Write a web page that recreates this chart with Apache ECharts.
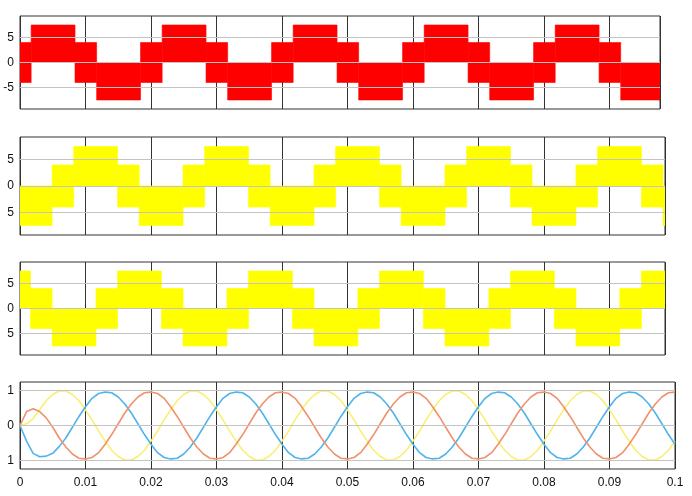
<!DOCTYPE html>
<html>
<head>
<meta charset="utf-8">
<script src="https://cdn.jsdelivr.net/npm/echarts@6/dist/echarts.min.js"></script>
<style>html,body{margin:0;background:#fff}#c{width:692px;height:496px}</style>
</head>
<body>
<div id="c"></div>
<script>
// stepped bands: breakpoint times, band low / high (last time = end of data)
var t1 = [0,.0017,.0084,.0117,.0184,.0217,.0284,.0317,.0384,.0417,.0484,.0517,.0584,.0617,.0684,.0717,.0784,.0817,.0884,.0917,.0984,.1];
var lo1 = [-4,0,-4,-7.5,-4,0,-4,-7.5,-4,0,-4,-7.5,-4,0,-4,-7.5,-4,0,-4,-7.5,-4];
var hi1 = [4,7.5,4,0,4,7.5,4,0,4,7.5,4,0,4,7.5,4,0,4,7.5,4,0,4];

var t2 = [0,.0049,.0082,.0149,.0182,.0249,.0282,.0349,.0382,.0449,.0482,.0549,.0582,.0649,.0682,.0749,.0782,.0849,.0882,.0949,.0982,.1];
var lo2 = [-7.5,-4,0,-4,-7.5,-4,0,-4,-7.5,-4,0,-4,-7.5,-4,0,-4,-7.5,-4,0,-4,-7.5];
var hi2 = [0,4,7.5,4,0,4,7.5,4,0,4,7.5,4,0,4,7.5,4,0,4,7.5,4,0];

var t3 = [0,.0016,.0049,.0116,.0149,.0216,.0249,.0316,.0349,.0416,.0449,.0516,.0549,.0616,.0649,.0716,.0749,.0816,.0849,.0916,.0949,.1];
var lo3 = [0,-4,-7.5,-4,0,-4,-7.5,-4,0,-4,-7.5,-4,0,-4,-7.5,-4,0,-4,-7.5,-4,0];
var hi3 = [7.5,4,0,4,7.5,4,0,4,7.5,4,0,4,7.5,4,0,4,7.5,4,0,4,7.5];

// sine signals sampled every 1 ms, 0..0.1 s
var sineYellow = [0,0.05,0.2,0.45,0.71,0.89,0.99,0.99,0.89,0.71,0.45,0.16,-0.16,-0.45,-0.71,-0.89,-0.99,-0.99,-0.89,-0.71,
-0.45,-0.16,0.16,0.45,0.71,0.89,0.99,0.99,0.89,0.71,0.45,0.16,-0.16,-0.45,-0.71,-0.89,-0.99,-0.99,-0.89,-0.71,
-0.45,-0.16,0.16,0.45,0.71,0.89,0.99,0.99,0.89,0.71,0.45,0.16,-0.16,-0.45,-0.71,-0.89,-0.99,-0.99,-0.89,-0.71,
-0.45,-0.16,0.16,0.45,0.71,0.89,0.99,0.99,0.89,0.71,0.45,0.16,-0.16,-0.45,-0.71,-0.89,-0.99,-0.99,-0.89,-0.71,
-0.45,-0.16,0.16,0.45,0.71,0.89,0.99,0.99,0.89,0.71,0.45,0.16,-0.16,-0.45,-0.71,-0.89,-0.99,-0.99,-0.89,-0.71,-0.45];
var sineBlue = [0,-0.45,-0.8,-0.9,-0.88,-0.8,-0.6,-0.36,-0.05,0.26,0.54,0.78,0.92,0.96,0.94,0.82,0.62,0.36,0.05,-0.26,
-0.54,-0.78,-0.92,-0.96,-0.94,-0.82,-0.62,-0.36,-0.05,0.26,0.54,0.78,0.92,0.96,0.94,0.82,0.62,0.36,0.05,-0.26,
-0.54,-0.78,-0.92,-0.96,-0.94,-0.82,-0.62,-0.36,-0.05,0.26,0.54,0.78,0.92,0.96,0.94,0.82,0.62,0.36,0.05,-0.26,
-0.54,-0.78,-0.92,-0.96,-0.94,-0.82,-0.62,-0.36,-0.05,0.26,0.54,0.78,0.92,0.96,0.94,0.82,0.62,0.36,0.05,-0.26,
-0.54,-0.78,-0.92,-0.96,-0.94,-0.82,-0.62,-0.36,-0.05,0.26,0.54,0.78,0.92,0.96,0.94,0.82,0.62,0.36,0.05,-0.26,-0.54];
var sineOrange = [0,0.4,0.48,0.4,0.22,-0.05,-0.36,-0.62,-0.82,-0.94,-0.96,-0.92,-0.78,-0.54,-0.26,0.05,0.36,0.62,0.82,0.94,
0.96,0.92,0.78,0.54,0.26,-0.05,-0.36,-0.62,-0.82,-0.94,-0.96,-0.92,-0.78,-0.54,-0.26,0.05,0.36,0.62,0.82,0.94,
0.96,0.92,0.78,0.54,0.26,-0.05,-0.36,-0.62,-0.82,-0.94,-0.96,-0.92,-0.78,-0.54,-0.26,0.05,0.36,0.62,0.82,0.94,
0.96,0.92,0.78,0.54,0.26,-0.05,-0.36,-0.62,-0.82,-0.94,-0.96,-0.92,-0.78,-0.54,-0.26,0.05,0.36,0.62,0.82,0.94,
0.96,0.92,0.78,0.54,0.26,-0.05,-0.36,-0.62,-0.82,-0.94,-0.96,-0.92,-0.78,-0.54,-0.26,0.05,0.36,0.62,0.82,0.94,0.96];

var yTicks = [-5, 0, 5];
var yTicks4 = [-1, 0, 1];

var chart = echarts.init(document.getElementById('c'));
var font = 'Liberation Sans';

var grids = [
  {left: 20, top: 16, width: 640, height: 93},
  {left: 20, top: 137, width: 645, height: 98},
  {left: 20, top: 262, width: 645, height: 93},
  {left: 20, top: 382, width: 655, height: 87}
];
var xMax = [0.0977, 0.0985, 0.0985, 0.1];
var yMax = [9.3, 9.3, 9.3, 1.25];

var xAxes = grids.map(function (g, i) {
  return {
    type: 'value', gridIndex: i, min: 0, max: xMax[i], interval: 0.01,
    axisLine: {show: false},
    axisTick: {show: true, inside: true, length: 4, lineStyle: {color: '#222'}},
    splitLine: {show: true, lineStyle: {color: '#333', width: 1}},
    axisLabel: {show: i === 3, color: '#111', fontFamily: font, fontSize: 12, margin: 8,
      showMaxLabel: true, formatter: function (v) { return String(+v.toFixed(2)); }}
  };
});
var yAxes = grids.map(function (g, i) {
  return {
    type: 'value', gridIndex: i, min: -yMax[i], max: yMax[i],
    axisLine: {show: false},
    splitLine: {show: false},
    axisTick: {show: true, inside: true, length: 4, customValues: i === 3 ? yTicks4 : yTicks, lineStyle: {color: '#222'}},
    axisLabel: {color: '#111', fontFamily: font, fontSize: 12, margin: 6,
      customValues: i === 3 ? yTicks4 : yTicks,
      formatter: function (v) { return i === 0 ? String(v) : String(Math.abs(v)); }}
  };
});

// gray horizontal grid lines, drawn beneath the data
function hLineSeries(idx, vals) {
  return {type: 'line', xAxisIndex: idx, yAxisIndex: idx, data: [], z: 1,
    markLine: {silent: true, symbol: 'none', label: {show: false}, animation: false,
      lineStyle: {color: '#c4c4c4', type: 'solid', width: 1.2},
      data: vals.map(function (v) { return {yAxis: v}; })}};
}

function band(idx, t, lo, hi, color) {
  var data = lo.map(function (v, k) { return [t[k], t[k + 1], v, hi[k]]; });
  return {
    type: 'custom', xAxisIndex: idx, yAxisIndex: idx, z: 3, clip: true,
    data: data,
    encode: {x: [0, 1], y: [2, 3]},
    renderItem: function (params, api) {
      var p0 = api.coord([api.value(0), api.value(3)]);
      var p1 = api.coord([api.value(1), api.value(2)]);
      var rect = echarts.graphic.clipRectByRect(
        {x: p0[0], y: p0[1], width: p1[0] - p0[0], height: p1[1] - p0[1]},
        {x: params.coordSys.x, y: params.coordSys.y, width: params.coordSys.width, height: params.coordSys.height});
      return rect && {type: 'rect', shape: rect, style: {fill: color, stroke: color, lineWidth: 0.6}};
    }
  };
}

var ms = sineYellow.map(function (v, k) { return k / 1000; });
function sine(vals, color) {
  return {type: 'line', xAxisIndex: 3, yAxisIndex: 3, symbol: 'none', z: 3,
    data: vals.map(function (v, k) { return [ms[k], v]; }),
    lineStyle: {color: color, width: 1.6}};
}

var series = [
  hLineSeries(0, yTicks), hLineSeries(1, yTicks), hLineSeries(2, yTicks), hLineSeries(3, yTicks4),
  band(0, t1, lo1, hi1, '#ff0000'),
  band(1, t2, lo2, hi2, '#ffff00'),
  band(2, t3, lo3, hi3, '#ffff00'),
  sine(sineYellow, '#f8f070'), sine(sineBlue, '#4fb4ec'), sine(sineOrange, '#f0926c')
];

chart.setOption({
  animation: false,
  backgroundColor: '#fff',
  grid: grids.map(function (g) {
    return Object.assign({show: true, borderColor: '#333', borderWidth: 1, containLabel: false}, g);
  }),
  xAxis: xAxes,
  yAxis: yAxes,
  series: series
});
</script>
</body>
</html>
